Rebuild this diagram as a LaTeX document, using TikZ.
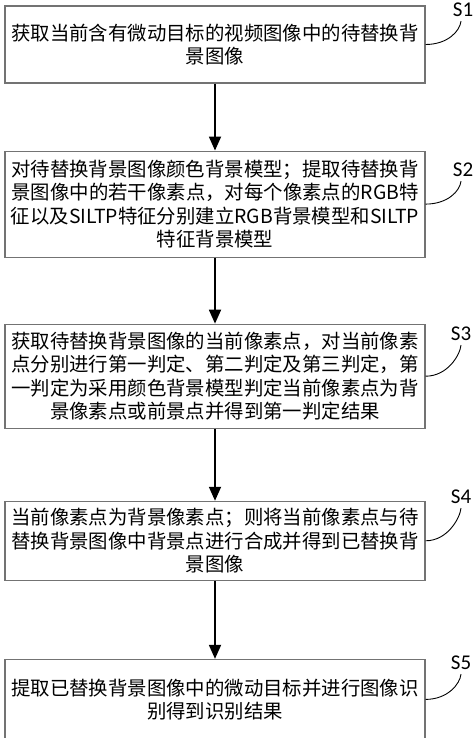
\documentclass[tikz,border=0pt]{standalone}
\usepackage{fontspec}
\newfontfamily\cjk{Noto Sans CJK SC}
\newfontfamily\labelfont{Carlito}
\usetikzlibrary{positioning,arrows.meta}
\begin{document}
\begin{tikzpicture}[x=1pt,y=1pt]
      \tikzstyle{process} = [rectangle, draw=black!55, line width=1.1pt, minimum width=420pt, inner sep=0pt, text width=410pt, align=center, font=\cjk\fontsize{19.4}{23.5}\selectfont]
      \tikzstyle{arrow} = [line width=1.8pt, -{Triangle[length=14pt,width=12pt]}]
      \tikzstyle{steplabel} = [font=\labelfont\fontsize{21}{24}\selectfont, inner sep=1pt]
      \tikzstyle{leader} = [line width=0.9pt]

      \useasboundingbox (0,0) rectangle (474,-738);

      \node (acquire) [process, minimum height=77pt] at (215,-44.5) {获取当前含有微动目标的视频图像中的待替换背\\景图像};
      \node (model) [process, minimum height=106pt, below=67pt of acquire] {对待替换背景图像颜色背景模型；提取待替换背\\景图像中的若干像素点，对每个像素点的RGB特\\征以及SILTP特征分别建立RGB背景模型和SILTP\\特征背景模型};
      \node (judge) [process, minimum height=104pt, below=66pt of model] {获取待替换背景图像的当前像素点，对当前像素\\点分别进行第一判定、第二判定及第三判定，第\\一判定为采用颜色背景模型判定当前像素点为背\\景像素点或前景点并得到第一判定结果};
      \node (compose) [process, minimum height=79pt, below=72pt of judge] {当前像素点为背景像素点；则将当前像素点与待\\替换背景图像中背景点进行合成并得到已替换背\\景图像};
      \node (recognize) [process, minimum height=80pt, below=78pt of compose] {提取已替换背景图像中的微动目标并进行图像识\\别得到识别结果};

      \node (lab1) [steplabel] at (463,-10) {S1};
      \node (lab2) [steplabel] at (463,-170) {S2};
      \node (lab3) [steplabel] at (461,-334) {S3};
      \node (lab4) [steplabel] at (461,-497) {S4};
      \node (lab5) [steplabel] at (461,-663) {S5};

      \draw [arrow] (acquire) -- (model);
      \draw [arrow] (model) -- (judge);
      \draw [arrow] (judge) -- (compose);
      \draw [arrow] (compose) -- (recognize);

      \draw [leader] (acquire.east) .. controls +(22,0) and +(-1,-10) .. ([xshift=-2pt,yshift=-3pt]lab1.south);
      \draw [leader] (model.east) .. controls +(22,0) and +(-1,-10) .. ([xshift=-2pt,yshift=-3pt]lab2.south);
      \draw [leader] (judge.east) .. controls +(22,0) and +(-1,-10) .. ([yshift=-3pt]lab3.south);
      \draw [leader] (compose.east) .. controls +(22,0) and +(-1,-10) .. ([yshift=-3pt]lab4.south);
      \draw [leader] (recognize.east) .. controls +(22,0) and +(-1,-10) .. ([yshift=-3pt]lab5.south);
    \end{tikzpicture}
\end{document}
